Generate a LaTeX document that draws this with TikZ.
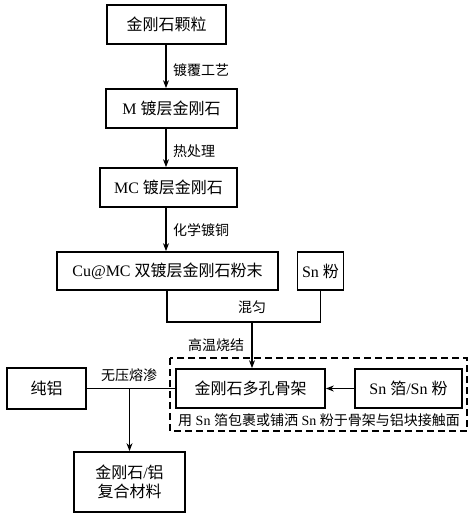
\documentclass[tikz,border=0pt]{standalone}
\usepackage{fontspec}
\setmainfont{Liberation Serif}
\newfontfamily\cjk{Noto Sans CJK SC}
\usetikzlibrary{arrows.meta,calc}
\tikzset{
  box/.style={draw, line width=1.7pt, inner sep=0pt, font=\fontsize{16}{19}\selectfont, align=center},
  conn/.style={line width=1.2pt},
  arr/.style={conn, -{Stealth[length=8pt,width=6pt]}},
  lbl/.style={font=\fontsize{14}{16}\selectfont, inner sep=0pt},
  captxt/.style={font=\fontsize{14}{16}\selectfont, inner sep=0pt},
  dashbox/.style={draw, line width=1.3pt, dash pattern=on 7pt off 4pt}
}
\begin{document}
\begin{tikzpicture}[x=1pt,y=-1pt]
\useasboundingbox (0,0) rectangle (474,518);
\fill[white] (0,0) rectangle (474,518);
% dashed group
\draw[dashbox] (170,358) rectangle (467,431);
% boxes
\node[box, minimum width=119pt, minimum height=39pt] (b1) at (166.5,24.5) {\cjk 金刚石颗粒};
\node[box, minimum width=131pt, minimum height=39pt] (b2) at (171.5,108.5) {M {\cjk 镀层金刚石}};
\node[box, minimum width=137pt, minimum height=39pt] (b3) at (168.5,187.5) {MC {\cjk 镀层金刚石}};
\node[box, minimum width=221pt, minimum height=38pt] (b4) at (167.5,271) {Cu@MC {\cjk 双镀层金刚石粉末}};
\node[box, minimum width=46pt, minimum height=38pt] (sn) at (320.5,271) {Sn {\cjk 粉}};
\node[box, minimum width=79pt, minimum height=41pt] (al) at (46.5,388.5) {\cjk 纯铝};
\node[box, minimum width=149pt, minimum height=39pt] (skel) at (250.5,388.5) {\cjk 金刚石多孔骨架};
\node[box, minimum width=107pt, minimum height=39pt] (snf) at (408.5,388.5) {Sn {\cjk 箔}/Sn {\cjk 粉}};
\node[box, minimum width=111pt, minimum height=60pt] (comp) at (129.5,482) {{\cjk 金刚石}/{\cjk 铝}\\{\cjk 复合材料}};
% connectors
\coordinate (a1) at (166,0);
\draw[arr] (a1 |- b1.south) -- (a1 |- b2.north);
\draw[arr] (a1 |- b2.south) -- (a1 |- b3.north);
\draw[arr] (a1 |- b3.south) -- (a1 |- b4.north);
\coordinate (mixL) at (167,322);
\coordinate (mixC) at (252,322);
\draw[conn] (mixL |- b4.south) -- (mixL) -| (sn.south);
\draw[arr] (mixC) -- (mixC |- skel.north);
\draw[conn] (al.east) -- (skel.west);
\coordinate (jn) at (comp.north |- al.east);
\draw[arr] (jn) -- (comp.north);
\draw[arr] (snf.west) -- (skel.east);
% labels
\node[lbl, anchor=west] (l1) at (173,70) {\cjk 镀覆工艺};
\node[lbl, anchor=west] (l2) at (173,151) {\cjk 热处理};
\node[lbl, anchor=west] (l3) at (173,230) {\cjk 化学镀铜};
\node[lbl] (l4) at (252,307) {\cjk 混匀};
\node[lbl] (l5) at (216,345) {\cjk 高温烧结};
\node[lbl] (l6) at (129,375) {\cjk 无压熔渗};
\node[captxt] (l7) at (319,420) {{\cjk 用} Sn {\cjk 箔包裹或铺洒} Sn {\cjk 粉于骨架与铝块接触面}};
\end{tikzpicture}
\end{document}
